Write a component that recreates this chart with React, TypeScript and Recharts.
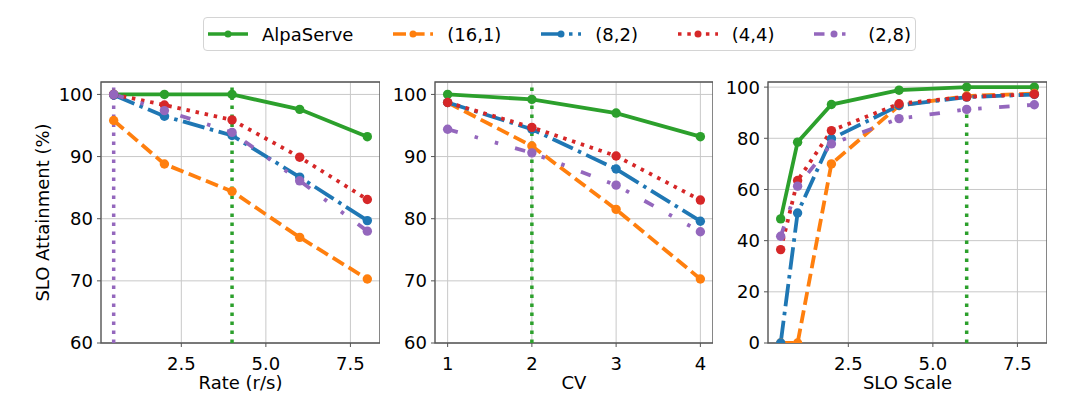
import React from 'react';
import { LineChart, Line, XAxis, YAxis, CartesianGrid, ReferenceLine, ReferenceArea } from 'recharts';

// rate panel
const RATE_X = [0.5, 2, 4, 6, 8];
const RATE_ALPASERVE = [100, 100, 100, 97.6, 93.2];
const RATE_16_1 = [95.8, 88.8, 84.4, 77.0, 70.3];
const RATE_8_2 = [99.9, 96.5, 93.4, 86.7, 79.7];
const RATE_4_4 = [100, 98.3, 95.9, 89.9, 83.1];
const RATE_2_8 = [100, 97.4, 93.9, 86.1, 78.0];

// cv panel
const CV_X = [1, 2, 3, 4];
const CV_ALPASERVE = [100, 99.2, 97.0, 93.2];
const CV_16_1 = [98.7, 91.7, 81.5, 70.3];
const CV_8_2 = [98.7, 94.4, 88.0, 79.6];
const CV_4_4 = [98.7, 94.7, 90.1, 83.0];
const CV_2_8 = [94.4, 90.6, 85.4, 77.9];

// slo scale panel
const SLO_X = [0.5, 1, 2, 4, 6, 8];
const SLO_ALPASERVE = [48.5, 78.5, 93.2, 98.8, 100, 100];
const SLO_16_1 = [0, 0, 70.0, 92.8, 96.5, 97.5];
const SLO_8_2 = [0, 50.8, 79.8, 92.8, 96.1, 97.1];
const SLO_4_4 = [36.5, 63.5, 83.0, 93.5, 96.2, 97.2];
const SLO_2_8 = [41.7, 61.3, 77.8, 87.7, 91.3, 93.1];

const SERIES_NAMES = ['AlpaServe', '(16,1)', '(8,2)', '(4,4)', '(2,8)'];
const X_TICKS_RATE = [2.5, 5, 7.5];
const X_TICKS_CV = [1, 2, 3, 4];
const Y_TICKS_PCT = [60, 70, 80, 90, 100];
const Y_TICKS_SLO = [0, 20, 40, 60, 80, 100];

const STYLES = [
  { key: 's0', color: '#2ca02c', dash: undefined },
  { key: 's1', color: '#ff7f0e', dash: '13 5.6' },
  { key: 's2', color: '#1f77b4', dash: '22.4 5.6 3.5 5.6' },
  { key: 's3', color: '#d62728', dash: '3.5 5.8' },
  { key: 's4', color: '#9467bd', dash: '10.5 17.5 3.5 17.5 3.5 17.5' },
];

const FONT = '"DejaVu Sans", sans-serif';
const SPINE = '#555';

function buildRows(xs: number[], cols: number[][]) {
  return xs.map((x, i) => {
    const row: Record<string, number> = { x };
    cols.forEach((c, j) => { row['s' + j] = c[i]; });
    return row;
  });
}

const rateRows = buildRows(RATE_X, [RATE_ALPASERVE, RATE_16_1, RATE_8_2, RATE_4_4, RATE_2_8]);
const cvRows = buildRows(CV_X, [CV_ALPASERVE, CV_16_1, CV_8_2, CV_4_4, CV_2_8]);
const sloRows = buildRows(SLO_X, [SLO_ALPASERVE, SLO_16_1, SLO_8_2, SLO_4_4, SLO_2_8]);

const makeDot = (color: string) => (p: any) => {
  if (p.cx == null || p.cy == null) return <g key={p.key ?? p.index} />;
  return <circle key={p.key ?? p.index} cx={p.cx} cy={p.cy} r={4.7} fill={color} />;
};

interface PanelProps {
  rows: Record<string, number>[];
  left: number;
  width: number;
  yAxisWidth: number;
  xDomain: [number, number];
  xTicks: number[];
  xFmt: (v: number) => string;
  yDomain: [number, number];
  yTicks: number[];
  xLabel: string;
  yLabel?: string;
  vlines: { x: number; color: string }[];
}

const Panel: React.FC<PanelProps> = (p) => {
  const tickStyle = { fontSize: 18, fill: '#000', fontFamily: FONT };
  return (
    <div style={{ position: 'absolute', left: p.left, top: 0 }}>
      <LineChart width={p.width} height={398} data={p.rows} margin={{ top: 82, right: 0, left: 0, bottom: 25 }}>
        <CartesianGrid stroke="#c8c8c8" strokeWidth={1} />
        <XAxis
          dataKey="x"
          type="number"
          domain={p.xDomain}
          ticks={p.xTicks}
          tickFormatter={p.xFmt}
          allowDataOverflow
          height={30}
          axisLine={false}
          tickLine={{ stroke: SPINE }}
          tickSize={4}
          tickMargin={10}
          tick={tickStyle}
          interval={0}
          label={{ value: p.xLabel, position: 'bottom', offset: 3, style: { fontSize: 18, fill: '#000', fontFamily: FONT } }}
        />
        <YAxis
          type="number"
          domain={p.yDomain}
          ticks={p.yTicks}
          allowDataOverflow
          width={p.yAxisWidth}
          axisLine={false}
          tickLine={{ stroke: SPINE }}
          tickSize={4}
          tickMargin={4}
          tick={tickStyle}
          interval={0}
          label={p.yLabel ? { value: p.yLabel, angle: -90, position: 'insideLeft', offset: 43, style: { textAnchor: 'middle', fontSize: 18, fill: '#000', fontFamily: FONT } } : undefined}
        />
        {STYLES.map((s) => (
          <Line
            key={s.key}
            type="linear"
            dataKey={s.key}
            stroke={s.color}
            strokeWidth={3.8}
            strokeDasharray={s.dash}
            dot={makeDot(s.color)}
            activeDot={false}
            isAnimationActive={false}
          />
        ))}
        {p.vlines.map((v, i) => (
          <ReferenceLine key={i} x={v.x} stroke={v.color} strokeWidth={3.5} strokeDasharray="3.5 5.5" />
        ))}
        <ReferenceArea x1={p.xDomain[0]} x2={p.xDomain[1]} y1={p.yDomain[0]} y2={p.yDomain[1]} fill="none" stroke={SPINE} strokeWidth={1.3} />
      </LineChart>
    </div>
  );
};

const LegendIcon: React.FC<{ color: string; dash?: string }> = ({ color, dash }) => (
  <svg width={40} height={12} style={{ display: 'block' }}>
    <line x1={0} y1={6} x2={40} y2={6} stroke={color} strokeWidth={3.5} strokeDasharray={dash} />
    <circle cx={20} cy={6} r={3.5} fill={color} />
  </svg>
);

export default function App() {
  return (
    <div style={{ position: 'absolute', left: 0, top: 0, width: 1078, height: 398, background: '#fff', fontFamily: FONT }}>
      <div
        style={{
          position: 'absolute', left: 203, top: 17, width: 713, height: 34, boxSizing: 'border-box',
          border: '1px solid #d4d4d4', borderRadius: 4, display: 'flex', alignItems: 'center',
          padding: '0 4px', justifyContent: 'space-between', fontSize: 18,
        }}
      >
        {SERIES_NAMES.map((n, i) => (
          <div key={n} style={{ display: 'flex', alignItems: 'center' }}>
            <LegendIcon color={STYLES[i].color} dash={STYLES[i].dash} />
            <span style={{ marginLeft: 14 }}>{n}</span>
          </div>
        ))}
      </div>
      <Panel
        rows={rateRows}
        left={0}
        width={380}
        yAxisWidth={101}
        xDomain={[0.125, 8.375]}
        xTicks={X_TICKS_RATE}
        xFmt={(v) => v.toFixed(1)}
        yDomain={[60, 102]}
        yTicks={Y_TICKS_PCT}
        xLabel="Rate (r/s)"
        yLabel="SLO Attainment (%)"
        vlines={[{ x: 0.5, color: '#9467bd' }, { x: 4, color: '#2ca02c' }]}
      />
      <Panel
        rows={cvRows}
        left={375}
        width={338}
        yAxisWidth={60}
        xDomain={[0.85, 4.15]}
        xTicks={X_TICKS_CV}
        xFmt={(v) => String(v)}
        yDomain={[60, 102]}
        yTicks={Y_TICKS_PCT}
        xLabel="CV"
        vlines={[{ x: 2, color: '#2ca02c' }]}
      />
      <Panel
        rows={sloRows}
        left={708}
        width={339}
        yAxisWidth={60}
        xDomain={[0.125, 8.375]}
        xTicks={X_TICKS_RATE}
        xFmt={(v) => v.toFixed(1)}
        yDomain={[0, 102]}
        yTicks={Y_TICKS_SLO}
        xLabel="SLO Scale"
        vlines={[{ x: 6, color: '#2ca02c' }]}
      />
    </div>
  );
}
